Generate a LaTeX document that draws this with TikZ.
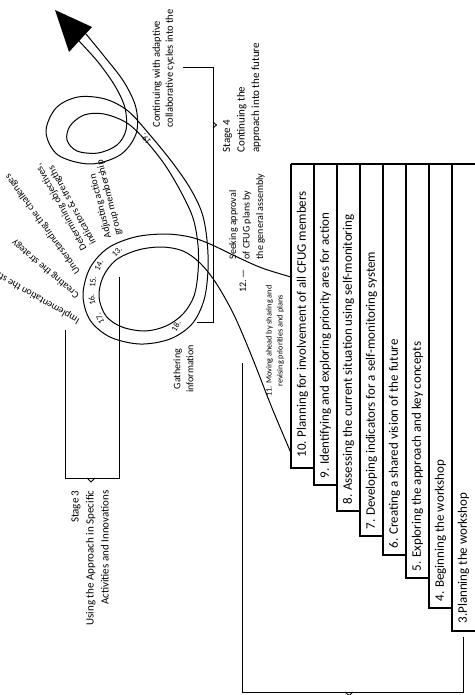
\documentclass[tikz,border=0pt]{standalone}
\usepackage{fontspec}
\setmainfont{Carlito}
\usetikzlibrary{positioning}

\begin{document}
\begin{tikzpicture}[x=1pt, y=-1pt, line width=0.9pt,
    stairline/.style={line width=1.1pt},
    steptext/.style={rotate=90, anchor=west, inner sep=0pt, font=\fontsize{13}{14}\selectfont},
    note/.style={inner sep=1pt, font=\fontsize{10}{13}\selectfont},
    stagetext/.style={inner sep=1pt, font=\fontsize{11}{14.5}\selectfont},
    num/.style={inner sep=0.5pt, font=\fontsize{8.5}{10}\selectfont},
    ribbon/.style={line width=1pt, line join=round}]
    \useasboundingbox (0,0) rectangle (474,695);

    % the staircase of workshop steps
    \draw[stairline] (291,164) -- (477,164)
        (291,164) -- (291,468) -- (314,468)
        (314,164) -- (314,485) -- (337,485)
        (337,164) -- (337,511) -- (360,511)
        (360,164) -- (360,536) -- (383,536)
        (383,164) -- (383,555) -- (406,555)
        (406,164) -- (406,578) -- (429,578)
        (429,164) -- (429,608) -- (452,608)
        (452,164) -- (452,631) -- (477,631);
    \node (s10) [steptext] at (302.5,458) {10. Planning for involvement of all CFUG members};
    \node (s9) [steptext] at (325.5,479) {9. Identifying and exploring priority ares for action};
    \node (s8) [steptext] at (348.5,505) {8. Assessing the current situation using self-monitoring};
    \node (s7) [steptext] at (371.5,530) {7. Developing indicators for a self-monitoring system};
    \node (s6) [steptext] at (394.5,549) {6. Creating a shared vision of the future};
    \node (s5) [steptext] at (417.5,572) {5. Exploring the approach and key concepts};
    \node (s4) [steptext] at (440.5,602) {4. Beginning the workshop};
    \node (s3) [steptext] at (463.5,624) {3.Planning the workshop};

    % the ribbon, two edges
    \draw[ribbon] plot[smooth, tension=0.55] coordinates {(291,277) (262,268) (235,256) (210,244) (190,237) (165,234) (135,237) (108,248) (90,268) (83,295) (90,320) (110,337) (140,344) (170,339) (192,324) (204,300) (208,270) (207,240) (202,213) (190,188) (172,162) (150,135) (128,111) (105,99) (78,97) (56,108) (46,132) (58,155) (90,164) (120,155) (136,134) (136,108) (124,82) (104,56) (86,34)};
    \draw[ribbon] plot[smooth, tension=0.55] coordinates {(291,453) (272,408) (252,357) (234,315) (216,283) (200,263) (183,251) (162,247) (138,250) (116,260) (103,277) (99,297) (106,316) (122,327) (145,331) (166,326) (183,314) (194,296) (198,272) (198,245) (193,218) (181,192) (165,165) (146,141) (127,123) (104,114) (84,115) (70,126) (67,140) (77,151) (98,153) (117,145) (126,130) (125,108) (115,86) (98,62) (79,41)};
    \fill (55,10) -- (92,27) -- (69,52) -- cycle;

    % numbers along the ribbon
    \node (l13) [num, rotate=45] at (117,252) {13.};
    \node (l14) [num, rotate=65] at (99,265) {14.};
    \node (l15) [num, rotate=85] at (93,282) {15.};
    \node (l16) [num, rotate=100] at (92,300) {16.};
    \node (l17) [num, rotate=115] at (100,319) {17.};
    \node (l18) [num, rotate=60] at (176,326) {18.};
    \node (l19) [num, rotate=130] at (146,139) {19.};

    % labels of stage 3 activities
    \node (adjust) [note, rotate=104, anchor=west, align=left, font=\fontsize{10}{10.5}\selectfont] at (114,238) {Adjusting action\\group membership};
    \node (determine) [note, rotate=119, anchor=west, align=left, font=\fontsize{10}{10.5}\selectfont] at (90,248) {Determining objectives,\\indicators \& strengths};
    \node (understand) [note, rotate=126, anchor=west] at (79,274) {Understanding the challenges};
    \node (creating) [note, rotate=140, anchor=west] at (79,297) {Creating the strategy};
    \node (implement) [note, rotate=150, anchor=west] at (80,322) {Implementation the strategy};
    \node (gather) [note, rotate=90, align=center] at (183.5,369) {Gathering\\information};

    % other labels
    \node (n11) [note, rotate=90, align=center, font=\fontsize{8.2}{11}\selectfont] at (275,341) {11. Moving ahead by sharing and\\revising priorities and plans};
    \node (n12) [note, rotate=90, anchor=west] at (243,294) {12.\,---};
    \node (seek) [note, rotate=90, anchor=west, align=left, font=\fontsize{10}{13.5}\selectfont] at (247,261) {Seeking approval\\of CFUG plans by\\the general assembly};
    \node (cont) [note, rotate=90, anchor=west, align=left, font=\fontsize{10.5}{13}\selectfont] at (163.5,129) {Continuing with adaptive\\collaborative cycles into the};
    \node (stage4) [stagetext, rotate=90, anchor=west, align=left] at (242,154) {Stage 4\\Continuing the\\approach into the future};
    \node (stage3) [stagetext, rotate=90, anchor=east, align=right, font=\fontsize{11}{15}\selectfont] at (90,489) {Stage 3\\Using the Approach in Specific\\Activities and Innovations};

    % brackets
    \draw (183,67) -- (213,67) -- (213,322) -- (197,322);
    \draw (213,122) -- (216.5,125) -- (213,128);
    \draw (119,277) -- (119,478) -- (65,478) -- (65,330);
    \draw (87,478) -- (91,482) -- (95,478);
    \draw (242,363) -- (242,692) -- (463,692) -- (463,637);
    \draw (345,692) -- (349,695.5) -- (353,692);
\end{tikzpicture}
\end{document}
